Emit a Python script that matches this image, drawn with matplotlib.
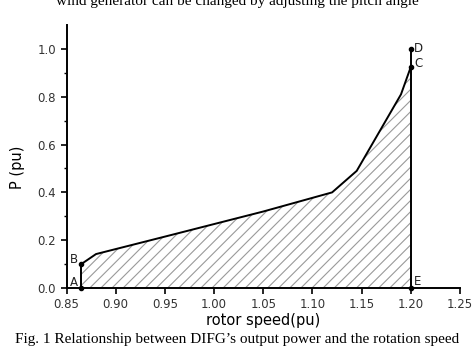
import numpy as np
import matplotlib
matplotlib.use('Agg')
import matplotlib.pyplot as plt

# operating curve of the rotor
speed = [0.865, 0.88, 0.95, 1.05, 1.12, 1.145, 1.19, 1.20]
power = [0.10, 0.142, 0.215, 0.32, 0.40, 0.49, 0.81, 0.925]

# labelled points
pt_names = ['A', 'B', 'C', 'D', 'E']
pt_x = [0.865, 0.865, 1.20, 1.20, 1.20]
pt_y = [0.0, 0.10, 0.925, 1.0, 0.0]

x_ticks = [0.85, 0.90, 0.95, 1.00, 1.05, 1.10, 1.15, 1.20, 1.25]
y_ticks = [0.0, 0.2, 0.4, 0.6, 0.8, 1.0]

plt.rcParams['hatch.color'] = '#9a9a9a'
plt.rcParams['hatch.linewidth'] = 0.8

fig = plt.figure(figsize=(4.74, 3.53), dpi=100)
ax = fig.add_axes([0.1403, 0.1841, 0.8302, 0.745])

# hatched area under the curve
fx = [pt_x[0]] + speed + [pt_x[4]]
fy = [0.0] + power + [0.0]
ax.fill(fx, fy, facecolor='none', edgecolor='#9a9a9a', hatch='///', linewidth=0)

# curve and vertical limits
ax.plot(speed, power, color='black', lw=1.4)
ax.plot([pt_x[0], pt_x[1]], [pt_y[0], pt_y[1]], color='black', lw=1.4)
ax.plot([pt_x[4], pt_x[3]], [pt_y[4], pt_y[3]], color='black', lw=1.4)
ax.plot(pt_x, pt_y, 'o', color='black', ms=3, clip_on=False, zorder=5)

# label offsets in pixels (dx right, dy up)
offsets = {'A': (-7, 6), 'B': (-7, 5), 'C': (8, 3), 'D': (8, 0), 'E': (7, 7)}
for n, x, y in zip(pt_names, pt_x, pt_y):
    dx, dy = offsets[n]
    ax.annotate(n, (x, y), xytext=(dx * 0.72, dy * 0.72), textcoords='offset points',
                ha='center', va='center', fontsize=8.5, color='#222222')

ax.set_xlim(0.85, 1.25)
ax.set_ylim(0.0, 1.1)
ax.set_xticks(x_ticks)
ax.set_xticklabels(['%.2f' % v for v in x_ticks])
ax.set_yticks(y_ticks)
ax.set_yticklabels(['%.1f' % v for v in y_ticks])
ax.set_yticks([0.1, 0.3, 0.5, 0.7, 0.9], minor=True)
ax.tick_params(axis='both', direction='out', labelsize=8.5, labelcolor='#333333', width=1.2, length=4)
ax.tick_params(axis='y', which='minor', direction='out', width=1.0, length=2.5)

for s in ['top', 'right']:
    ax.spines[s].set_visible(False)
for s in ['left', 'bottom']:
    ax.spines[s].set_linewidth(1.4)

ax.set_xlabel('rotor speed(pu)', fontsize=10.5, labelpad=1)
ax.set_ylabel('P (pu)', fontsize=10.5)
ax.yaxis.set_label_coords(-0.105, 0.46)

fig.text(0.5, 0.038, "Fig. 1 Relationship between DIFG\u2019s output power and the rotation speed",
         ha='center', va='center', fontsize=11, family='Liberation Serif')
# line of body text above the figure, cut off at the top edge as in the scan
fig.text(0.5, 0.995, "wind generator can be changed by adjusting the pitch angle",
         ha='center', va='center', fontsize=11, family='Liberation Serif')

fig.savefig('out.png', dpi=100)
